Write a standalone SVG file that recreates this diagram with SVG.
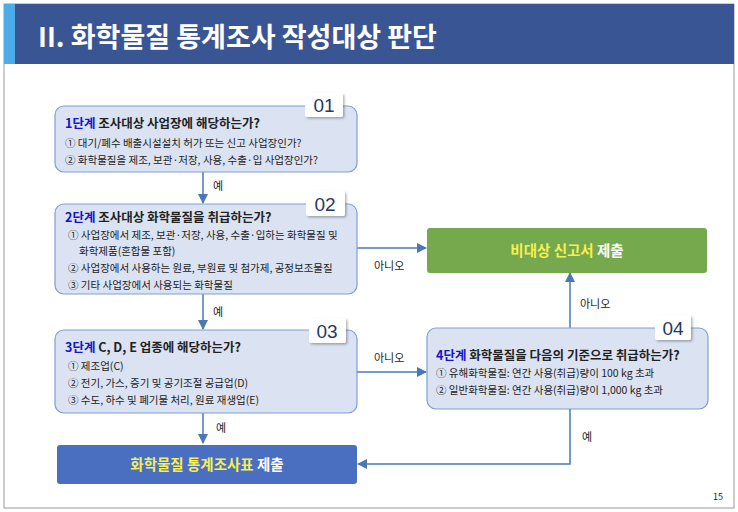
<svg xmlns="http://www.w3.org/2000/svg" width="738" height="512" viewBox="0 0 738 512">
<defs>
<marker id="ar" markerWidth="10" markerHeight="10" refX="9" refY="5" orient="auto" markerUnits="userSpaceOnUse"><path d="M0,0 L10,5 L0,10 z" fill="#4a78b4"/></marker>
<filter id="sh" x="-20%" y="-20%" width="150%" height="150%"><feDropShadow dx="1.5" dy="1.5" stdDeviation="1" flood-opacity="0.3"/></filter>
</defs>
<style>
text{font-family:"Noto Sans CJK KR","Noto Sans",sans-serif;fill:#222}
.box{fill:#dbe2f2;stroke:#7f9fd0;stroke-width:1.2}
.badge{fill:#fff;filter:url(#sh)}
.bn{font-size:19px;fill:#1f3864;font-family:"Liberation Sans","Noto Sans CJK KR",sans-serif}
.h{font-size:12.5px;font-weight:bold}
.s{color:#1414d0;fill:#1414d0}
.i{font-size:10.5px}
.c{stroke:#4a78b4;stroke-width:1.5;fill:none}
.l{font-size:11px}
</style>
<rect x="4" y="4" width="730" height="504" fill="#fff" stroke="#999" stroke-width="1"/>
<rect x="4" y="4" width="730" height="60" fill="#3a5594"/>
<rect x="4" y="4" width="11" height="60" fill="#4dabe8"/>
<text x="38" y="47" font-size="27" font-weight="bold" style="fill:#fff">II. 화학물질 통계조사 작성대상 판단</text>

<g id="connectors">
<line class="c" x1="203" y1="172" x2="203" y2="203" marker-end="url(#ar)"/>
<line class="c" x1="357" y1="248" x2="426" y2="248" marker-end="url(#ar)"/>
<line class="c" x1="203" y1="294" x2="203" y2="329" marker-end="url(#ar)"/>
<line class="c" x1="357" y1="372" x2="426" y2="372" marker-end="url(#ar)"/>
<line class="c" x1="203" y1="413" x2="203" y2="443" marker-end="url(#ar)"/>
<line class="c" x1="570" y1="328" x2="570" y2="273" marker-end="url(#ar)"/>
<polyline class="c" points="570,409 570,464 358,464" marker-end="url(#ar)"/>
<text class="l" x="213" y="190">예</text>
<text class="l" x="374" y="270">아니오</text>
<text class="l" x="213" y="316">예</text>
<text class="l" x="374" y="362">아니오</text>
<text class="l" x="216" y="432">예</text>
<text class="l" x="580" y="308">아니오</text>
<text class="l" x="582" y="441">예</text>
</g>

<g id="n1">
<rect class="box" x="55" y="106" width="302" height="66" rx="9"/>
<rect class="badge" x="305" y="93" width="38" height="24" rx="2"/>
<text class="bn" x="324" y="112" text-anchor="middle">01</text>
<text class="h" x="65" y="128"><tspan class="s">1단계</tspan> 조사대상 사업장에 해당하는가?</text>
<text class="i" x="65" y="147">① 대기/폐수 배출시설설치 허가 또는 신고 사업장인가?</text>
<text class="i" x="65" y="164">② 화학물질을 제조, 보관·저장, 사용, 수출·입 사업장인가?</text>
</g>

<g id="n2">
<rect class="box" x="55" y="204" width="302" height="90" rx="9"/>
<rect class="badge" x="306" y="191" width="39" height="25" rx="2"/>
<text class="bn" x="325" y="211" text-anchor="middle">02</text>
<text class="h" x="65" y="222"><tspan class="s">2단계</tspan> 조사대상 화학물질을 취급하는가?</text>
<text class="i" x="68" y="239">① 사업장에서 제조, 보관·저장, 사용, 수출·입하는 화학물질 및</text>
<text class="i" x="79" y="255">화학제품(혼합물 포함)</text>
<text class="i" x="68" y="272">② 사업장에서 사용하는 원료, 부원료 및 첨가제, 공정보조물질</text>
<text class="i" x="68" y="289">③ 기타 사업장에서 사용되는 화학물질</text>
</g>

<g id="n3">
<rect class="box" x="55" y="330" width="302" height="83" rx="9"/>
<rect class="badge" x="309" y="318" width="37" height="25" rx="2"/>
<text class="bn" x="327" y="338" text-anchor="middle">03</text>
<text class="h" x="65" y="352"><tspan class="s">3단계</tspan> C, D, E 업종에 해당하는가?</text>
<text class="i" x="68" y="370">① 제조업(C)</text>
<text class="i" x="68" y="387">② 전기, 가스, 증기 및 공기조절 공급업(D)</text>
<text class="i" x="68" y="404">③ 수도, 하수 및 폐기물 처리, 원료 재생업(E)</text>
</g>

<g id="n4">
<rect class="box" x="427" y="328" width="281" height="81" rx="9"/>
<rect class="badge" x="655" y="315" width="36" height="25" rx="2"/>
<text class="bn" x="673" y="335" text-anchor="middle">04</text>
<text class="h" x="436" y="360"><tspan class="s">4단계</tspan> 화학물질을 다음의 기준으로 취급하는가?</text>
<text class="i" x="436" y="377">① 유해화학물질: 연간 사용(취급)량이 100 kg 초과</text>
<text class="i" x="436" y="394">② 일반화학물질: 연간 사용(취급)량이 1,000 kg 초과</text>
</g>

<g id="green">
<rect x="427" y="228" width="280" height="45" rx="3" fill="#76a84e"/>
<text x="567" y="256" text-anchor="middle" font-size="14.5" font-weight="bold" style="fill:#fff"><tspan style="fill:#f5f050">비대상 신고서</tspan> 제출</text>
</g>

<g id="blue">
<rect x="57" y="445" width="300" height="39" rx="3" fill="#4a6fc0"/>
<text x="207" y="470" text-anchor="middle" font-size="14.5" font-weight="bold" style="fill:#fff"><tspan style="fill:#f5f050">화학물질 통계조사표</tspan> 제출</text>
</g>
<text x="718" y="500" font-size="9" text-anchor="middle">15</text>
</svg>
